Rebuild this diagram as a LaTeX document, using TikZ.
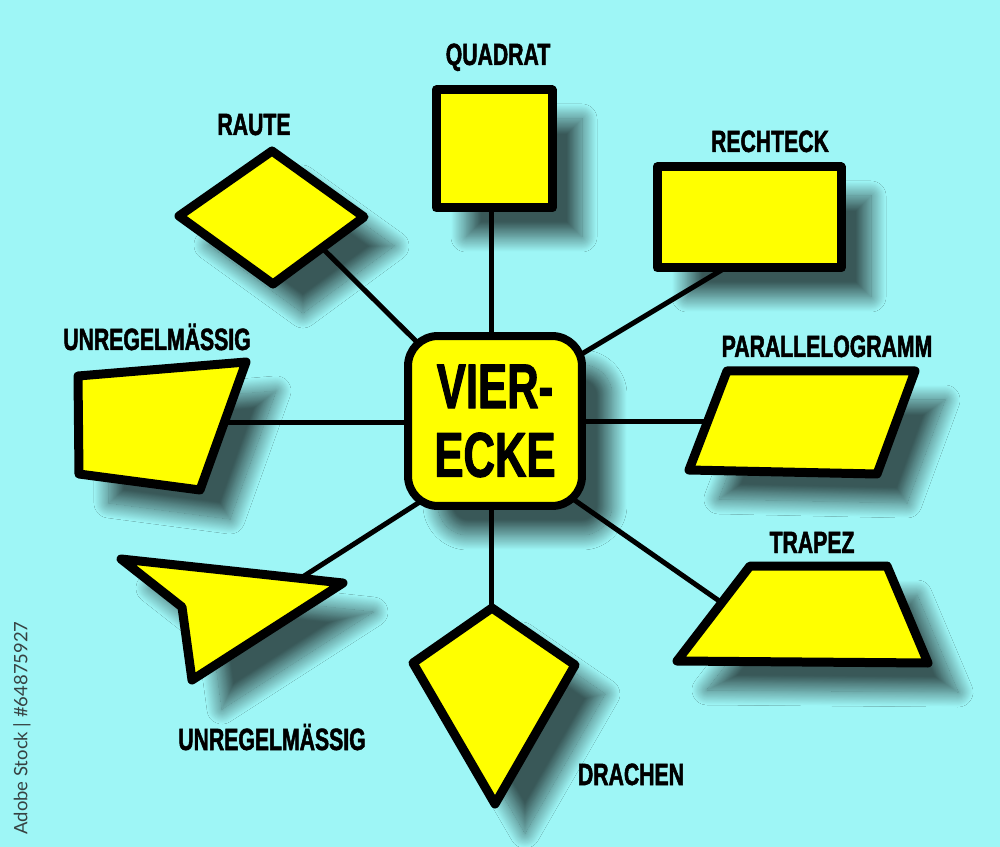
\documentclass[tikz,border=0pt]{standalone}
\usepackage{fontspec}
\usetikzlibrary{shadows.blur}
\newfontfamily\schildfont[FakeStretch=0.69, FakeBold=1.6]{Liberation Sans Bold}
\newfontfamily\stockfont{Lato}
\definecolor{himmel}{RGB}{158,246,246}
\definecolor{zitrone}{RGB}{255,255,0}
\definecolor{stockgrau}{RGB}{55,66,66}

\tikzset{
    form/.style={draw=black, fill=zitrone, line width=0.18cm, line join=round,
        blur shadow={shadow xshift=0.6cm, shadow yshift=-0.58cm,
            shadow blur radius=0.3cm, shadow blur steps=40, shadow opacity=64}},
    verbindung/.style={draw=black, line width=0.1cm},
    beschriftung/.style={font=\schildfont\fontsize{17.5}{20}\selectfont,
        anchor=base, inner sep=0pt},
}

\begin{document}
\begin{tikzpicture}[x=0.02cm, y=-0.02cm]
    \fill[himmel] (0, 0) rectangle (1000, 847);
    \useasboundingbox (0, 0) rectangle (1000, 847);

    % Verbindungen zur Mitte
    \foreach \nr/\ax/\ay/\bx/\by in
        {quadrat/491/190/491/360, rechteck/735/262/545/376,
         raute/300/226/440/365, links/220/423/430/423,
         unten/290/585/440/489, drachen/491/620/491/480,
         trapez/725/605/560/490, para/720/422/560/422}{
        \coordinate (\nr-a) at (\ax, \ay);
        \coordinate (\nr-b) at (\bx, \by);
        \draw[verbindung] (\nr-a) -- (\nr-b);
    }

    % die Vierecke
    \draw[form] (436, 90) rectangle (552, 208);
    \draw[form] (657, 167) rectangle (841, 268);
    \draw[form] (272, 151) -- (364, 217) -- (273, 284) -- (179, 216) -- cycle;
    \draw[form] (78, 376) -- (246, 362) -- (200, 490) -- (79, 474) -- cycle;
    \draw[form] (121, 559) -- (343, 583) -- (192, 680) -- (182, 607) -- cycle;
    \draw[form] (492, 608) -- (575, 665) -- (495, 804) -- (413, 663) -- cycle;
    \draw[form] (727, 371) -- (915, 371) -- (877, 474) -- (689, 470) -- cycle;
    \draw[form] (750, 566) -- (887, 566) -- (928, 663) -- (677, 661) -- cycle;

    \node[form, rounded corners=0.6cm, line width=0.16cm, inner sep=0pt,
        minimum width=3.48cm, minimum height=3.4cm, align=center,
        font=\schildfont\fontsize{36}{39}\selectfont]
        (vierecke) at (495, 421) {VIER-\\ECKE};

    \foreach \nr/\x/\y/\txt in
        {quadrat/498/65/QUADRAT, raute/254/135/RAUTE,
         rechteck/770/152/RECHTECK, links/157/350/UNREGELMÄSSIG,
         para/827/357/PARALLELOGRAMM, trapez/812/553/TRAPEZ,
         unten/272/750/UNREGELMÄSSIG, drachen/631/785/DRACHEN}{
        \node[beschriftung] (l-\nr) at (\x, \y) {\txt};
    }

    \node[rotate=90, text=stockgrau, font=\stockfont\fontsize{10.5}{12}\selectfont]
        (stock) at (22, 728) {Adobe Stock | \#64875927};
\end{tikzpicture}
\end{document}
